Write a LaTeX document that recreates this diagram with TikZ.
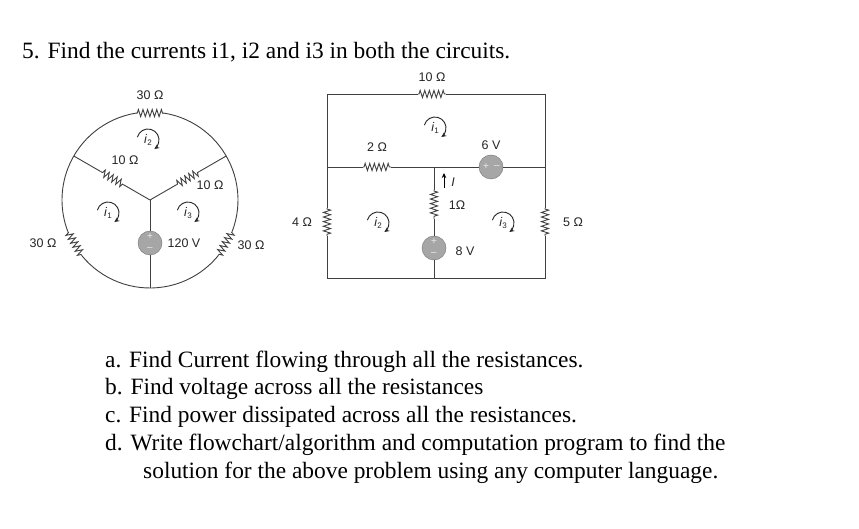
\documentclass[tikz,border=0pt]{standalone}
\usepackage{fontspec}
\setmainfont{Liberation Serif}
\newfontfamily\lab{Liberation Sans}
\usetikzlibrary{decorations.pathmorphing,arrows.meta,calc}
\begin{document}
\begin{tikzpicture}[x=1pt,y=1pt,
  wire/.style={line width=0.9pt,black!75},
  resz/.style={wire,decorate,decoration={zigzag,segment length=4.6pt,amplitude=3.6pt,pre length=1pt,post length=1pt}},
  src/.style={circle,fill=black!35,draw=black!55,minimum size=24pt,inner sep=0pt},
  lbl/.style={font=\lab\fontsize{12.5}{13}\selectfont,black!85,inner sep=1pt},
  sgn/.style={font=\lab\fontsize{10}{10}\selectfont,black!8,inner sep=0pt},
  loop/.style={line width=0.9pt,black!85,-{Stealth[length=5pt,width=4.5pt]}},
  txt/.style={font=\fontsize{23.4}{26}\selectfont,anchor=west,inner sep=0pt}]
\useasboundingbox (0,0) rectangle (859,-529);
\fill[white] (0,0) rectangle (859,-529);
\node[txt] (t) at (22,-52) {5. Find the currents i1, i2 and i3 in both the circuits.};
% left circuit
\coordinate (c) at (150,-200);
\def\R{88}
\draw[wire] ($(c)+(99:\R)$) arc[start angle=99,end angle=201,radius=\R];
\draw[wire] ($(c)+(219:\R)$) arc[start angle=219,end angle=321,radius=\R];
\draw[wire] ($(c)+(339:\R)$) arc[start angle=339,end angle=441,radius=\R];
\foreach \a in {90,210,330}{\draw[resz] ($(c)+(\a+9:\R)$) -- ($(c)+(\a-9:\R)$);}
\coordinate (ul) at ($(c)+(150:\R)$);
\coordinate (ur) at ($(c)+(30:\R)$);
\coordinate (bt) at ($(c)+(270:\R)$);
\coordinate (r1a) at ($(c)!0.35!(ul)$);\coordinate (r1b) at ($(c)!0.65!(ul)$);
\coordinate (r2a) at ($(c)!0.35!(ur)$);\coordinate (r2b) at ($(c)!0.65!(ur)$);
\draw[wire] (c) -- (r1a) (r1b) -- (ul) (c) -- (r2a) (r2b) -- (ur);
\draw[resz] (r1a) -- (r1b);
\draw[resz] (r2a) -- (r2b);
\node[src] (s1) at (150,-243) {};
\draw[wire] (c) -- (s1.north) (s1.south) -- (bt);
\node[sgn] at (150,-237) {+};\node[sgn] at (150,-249) {–};
\node[lbl] at (150,-95) {30 Ω};
\node[lbl] at (125,-160) {10 Ω};
\node[lbl] at (210,-185) {10 Ω};
\node[lbl] at (43,-243) {30 Ω};
\node[lbl] at (184,-243) {120 V};
\node[lbl] at (251,-245) {30 Ω};
\foreach \x/\y/\n in {148/-140/2,108/-213/1,188/-213/3}{
  \draw[loop] (\x,\y)++(165:11) arc[start angle=165,end angle=-55,radius=11];
  \node[lbl] at (\x,\y) {\textit{i}\raisebox{-2pt}{\footnotesize\n}};}
% right circuit
\coordinate (A) at (327,-94);\coordinate (B) at (545,-94);
\coordinate (C) at (327,-167);\coordinate (M) at (434,-167);\coordinate (D) at (545,-167);
\coordinate (E) at (327,-278);\coordinate (F) at (434,-278);\coordinate (G) at (545,-278);
\draw[wire] (A) -- (418,-94) (446,-94) -- (B) -- (545,-208) (545,-236) -- (G) -- (E) -- (327,-236) (327,-208) -- (A);
\draw[resz] (418,-94) -- (446,-94);
\draw[resz] (545,-208) -- (545,-236);
\draw[resz] (327,-208) -- (327,-236);
\draw[wire] (C) -- (363,-167) (391,-167) -- (M);
\draw[resz] (363,-167) -- (391,-167);
\node[src] (s2) at (491,-167) {};
\draw[wire] (M) -- (s2.west) (s2.east) -- (D);
\node[sgn] at (486,-167) {+};\node[sgn] at (497,-167) {–};
\node[src] (s3) at (434,-248) {};
\draw[wire] (M) -- (434,-190) (434,-219) -- (s3.north) (s3.south) -- (F);
\draw[resz] (434,-190) -- (434,-219);
\node[sgn] at (434,-242) {+};\node[sgn] at (434,-254) {–};
\draw[line width=0.9pt,-{Stealth[length=5pt,width=4.5pt]}] (444,-188) -- (444,-173);
\node[lbl] at (453,-182) {\textit{I}};
\node[lbl] at (432,-77) {10 Ω};
\node[lbl] at (377,-147) {2 Ω};
\node[lbl] at (491,-145) {6 V};
\node[lbl] at (457,-205) {1Ω};
\node[lbl] at (302,-222) {4 Ω};
\node[lbl] at (573,-222) {5 Ω};
\node[lbl] at (465,-251) {8 V};
\foreach \x/\y/\n in {435/-128/1,378/-223/2,503/-223/3}{
  \draw[loop] (\x,\y)++(165:11) arc[start angle=165,end angle=-55,radius=11];
  \node[lbl] at (\x,\y) {\textit{i}\raisebox{-2pt}{\footnotesize\n}};}
% questions
\node[txt] (qa) at (105,-362) {a. Find Current flowing through all the resistances.};
\node[txt] (qb) at (105,-389) {b. Find voltage across all the resistances};
\node[txt] (qc) at (105,-417) {c. Find power dissipated across all the resistances.};
\node[txt] (qd) at (105,-445) {d. Write flowchart/algorithm and computation program to find the};
\node[txt] (qe) at (143,-473) {solution for the above problem using any computer language.};
\end{tikzpicture}
\end{document}
